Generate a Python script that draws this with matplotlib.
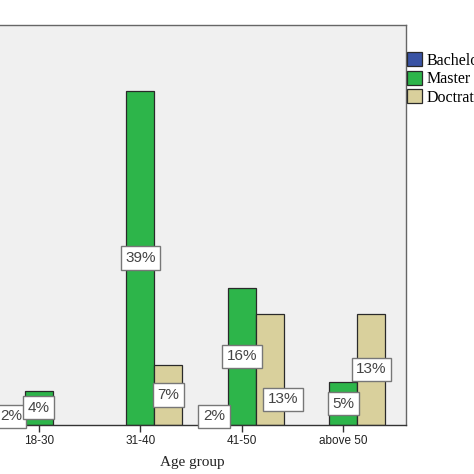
import numpy as np
import matplotlib
matplotlib.use('Agg')
import matplotlib.pyplot as plt

# data (percent of respondents)
age_groups = ['18-30', '31-40', '41-50', 'above 50']
levels     = ['Bachelor', 'Master', 'Doctrate']
bachelor   = [2, 0, 2, 0]
master     = [4, 39, 16, 5]
doctrate   = [0, 7, 13, 13]

colorlst = ['#3953a4', '#2db54a', '#d9d09c']
barwidth = 0.276
# label nudges (dx in category units, dy in percent) where labels were moved apart
label_shift = {(2, 2): (0.13, -3.5)}

fig = plt.figure(figsize=(4.74, 4.74), dpi=100)
ax = fig.add_axes([-22/474, 49/474, 428/474, 400/474])
ax.set_facecolor('#f0f0f0')

x = np.arange(len(age_groups))
series = [bachelor, master, doctrate]
for i in range(len(series)):
    vals = np.array(series[i], dtype=float)
    xs = x + barwidth*(i-1)
    keep = vals > 0
    ax.bar(xs[keep], vals[keep], width=barwidth, color=colorlst[i], edgecolor='#2a2a2a',
           linewidth=0.9, zorder=2)
    ax.bar([np.nan], [np.nan], color=colorlst[i], edgecolor='#2a2a2a', linewidth=0.9,
           label=levels[i])
    for j in range(len(vals)):
        if not keep[j]:
            continue
        dx, dy = label_shift.get((i, j), (0, 0))
        ax.text(xs[j]+dx, vals[j]/2+dy, '%d%%' % vals[j], ha='center', va='center',
                fontsize=11, family='Liberation Sans', color='#444444', zorder=4,
                bbox=dict(boxstyle='square,pad=0.3', facecolor='white',
                          edgecolor='#777777', linewidth=1.0))

ax.set_xlim((-0.6, 3.616))
ax.set_ylim((0, 46.7))
ax.set_yticks([])
ax.set_xticks(x, age_groups)
ax.tick_params(axis='x', length=5, width=1, color='#333333', labelsize=8.5,
               labelcolor='#222222', pad=2)
for lbl in ax.get_xticklabels():
    lbl.set_family('Liberation Sans')
for side in ['top', 'right', 'left']:
    ax.spines[side].set_color('#666666')
    ax.spines[side].set_linewidth(1.0)
ax.spines['bottom'].set_color('#333333')
ax.spines['bottom'].set_linewidth(1.0)
ax.set_xlabel('Age group', family='Liberation Serif', fontsize=11, color='#222222',
              labelpad=7)

fig.legend(loc='upper left', bbox_to_anchor=(407/474, 1-52/474), frameon=False,
           prop={'family': 'Liberation Serif', 'size': 11.5}, handlelength=0.95,
           handleheight=1.0, handletextpad=0.25, labelspacing=0.12, borderpad=0,
           borderaxespad=0)

plt.savefig('out.png', dpi=100)
plt.close()
